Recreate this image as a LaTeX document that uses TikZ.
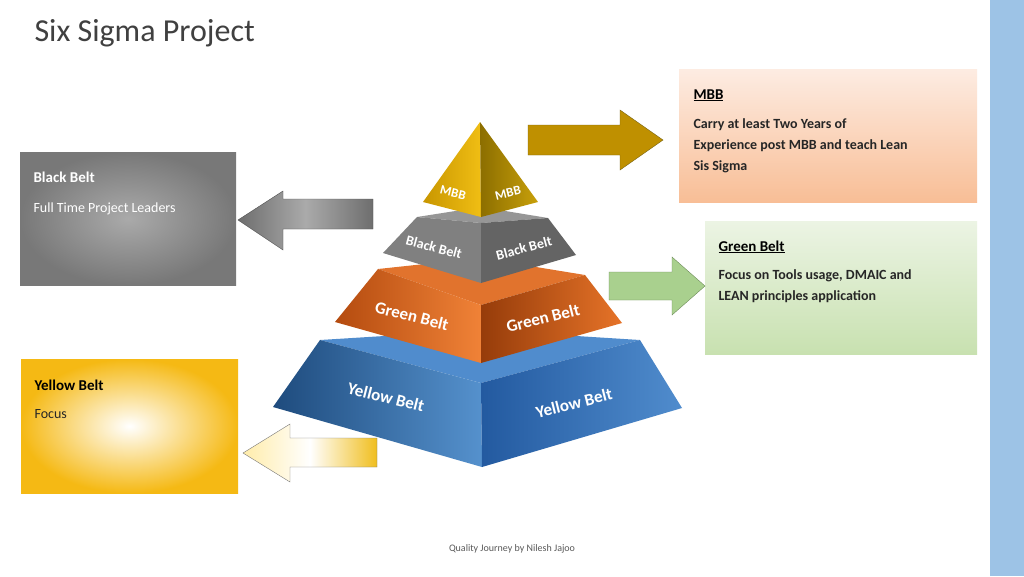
\documentclass[tikz,border=0pt]{standalone}
\usepackage{fontspec}
\setmainfont{Carlito}
\definecolor{strip}{RGB}{157,195,230}
\definecolor{dk}{RGB}{64,64,64}
\definecolor{body}{RGB}{38,38,38}
\definecolor{ytop}{RGB}{80,140,205}
\definecolor{gtop}{RGB}{225,115,45}
\definecolor{btop}{RGB}{150,150,150}
\definecolor{bleft}{RGB}{128,128,128}
\definecolor{bright}{RGB}{100,100,100}
\begin{document}
\begin{tikzpicture}[x=1pt,y=-1pt,
  lbl/.style={text=white,font=\bfseries},
  boxt/.style={anchor=north west,align=left,font=\bfseries\fontsize{15}{18}\selectfont},
  boxb/.style={anchor=north west,align=left,font=\bfseries\fontsize{14}{21}\selectfont}]
\useasboundingbox (0,0) rectangle (1024,576);
\fill[white] (0,0) rectangle (1024,576);
\fill[strip] (990,0) rectangle (1024,576);
\node[anchor=west,font=\fontsize{32}{36}\selectfont,text=dk] (title) at (31,33) {Six Sigma Project};
\node[font=\fontsize{10}{12}\selectfont,text={rgb,255:red,89;green,89;blue,89}] (foot) at (512,549) {Quality Journey by Nilesh Jajoo};
% boxes
\shade[top color={rgb,255:red,253;green,236;blue,226},bottom color={rgb,255:red,248;green,190;blue,150}] (679,69) rectangle (977,202);
\node[boxt,text=black] (mbbt) at (690,86) {\underline{MBB}};
\node[boxb,text=body] (mbbb) at (690,115) {Carry at least Two Years of\\Experience post MBB and teach Lean\\Sis Sigma};
\shade[top color={rgb,255:red,236;green,244;blue,228},bottom color={rgb,255:red,200;green,225;blue,176}] (705,221) rectangle (977,354);
\node[boxt,text=black] (gbt) at (715,237) {\underline{Green Belt}};
\node[boxb,text=body] (gbb) at (715,266) {Focus on Tools usage, DMAIC and\\LEAN principles application};
\shade[inner color={rgb,255:red,170;green,170;blue,170},outer color={rgb,255:red,120;green,120;blue,120}] (20,152) rectangle (236,285);
\node[boxt,text=white] (bbt) at (30,168) {Black Belt};
\node[anchor=north west,font=\fontsize{14}{17}\selectfont,text=white] (bbb) at (30,199) {Full Time Project Leaders};
\shade[inner color=white,outer color={rgb,255:red,245;green,185;blue,20}] (21,359) rectangle (238,493);
\node[boxt,text=black] (ybt) at (31,376) {Yellow Belt};
\node[anchor=north west,font=\fontsize{14}{17}\selectfont,text=body] (ybb) at (31,406) {Focus};
% arrows
\draw[draw={rgb,255:red,120;green,100;blue,20},fill={rgb,255:red,191;green,144;blue,0}] (528,125) -- (620,125) -- (620,110) -- (663,140) -- (620,170) -- (620,155) -- (528,155) -- cycle;
\shade[left color={rgb,255:red,110;green,110;blue,110},right color={rgb,255:red,110;green,110;blue,110},middle color={rgb,255:red,170;green,170;blue,170},draw={rgb,255:red,80;green,80;blue,80}] (373,199) -- (283,199) -- (283,191) -- (238,220) -- (283,250) -- (283,229) -- (373,229) -- cycle;
\draw[draw={rgb,255:red,110;green,140;blue,90},fill={rgb,255:red,169;green,208;blue,142}] (609,272) -- (672,272) -- (672,257) -- (705,286) -- (672,315) -- (672,300) -- (609,300) -- cycle;
\shade[left color={rgb,255:red,255;green,236;blue,170},right color={rgb,255:red,240;green,190;blue,30},middle color=white,draw={rgb,255:red,120;green,120;blue,120}] (377,438) -- (290,438) -- (290,424) -- (243,453) -- (290,482) -- (290,467) -- (377,467) -- cycle;
% yellow band
\fill[ytop] (320,340) -- (481,330) -- (640,340) -- (481,383) -- cycle;
\shade[left color={rgb,255:red,30;green,75;blue,125},right color={rgb,255:red,85;green,145;blue,205}] (320,340) -- (481,383) -- (482,467) -- (273,407) -- cycle;
\shade[left color={rgb,255:red,35;green,90;blue,160},right color={rgb,255:red,80;green,140;blue,205}] (481,383) -- (640,340) -- (682,408) -- (482,467) -- cycle;
% green band
\fill[gtop] (378,269) -- (481,258) -- (585,275) -- (481,305) -- cycle;
\shade[left color={rgb,255:red,180;green,75;blue,15},right color={rgb,255:red,240;green,130;blue,55}] (378,269) -- (481,305) -- (481,363) -- (335,322) -- cycle;
\shade[left color={rgb,255:red,150;green,60;blue,10},right color={rgb,255:red,230;green,115;blue,40}] (481,305) -- (585,275) -- (622,323) -- (481,363) -- cycle;
% black band
\fill[btop] (417,217) -- (481,207) -- (548,218) -- (481,223) -- cycle;
\fill[bleft] (417,217) -- (481,223) -- (481,283) -- (383,253) -- cycle;
\fill[bright] (481,223) -- (548,218) -- (576,255) -- (481,283) -- cycle;
% top
\shade[left color={rgb,255:red,200;green,150;blue,0},right color={rgb,255:red,240;green,190;blue,20}] (480,122) -- (481,217) -- (423,202) -- cycle;
\shade[left color={rgb,255:red,140;green,110;blue,0},right color={rgb,255:red,200;green,160;blue,10}] (480,122) -- (538,202) -- (481,217) -- cycle;
% labels
\node[lbl,font=\bfseries\fontsize{13}{15}\selectfont,rotate=-14] (m1) at (453,193) {MBB};
\node[lbl,font=\bfseries\fontsize{13}{15}\selectfont,rotate=14] (m2) at (508,193) {MBB};
\node[lbl,font=\bfseries\fontsize{14}{16}\selectfont,rotate=-15] (b1) at (434,247) {Black Belt};
\node[lbl,font=\bfseries\fontsize{14}{16}\selectfont,rotate=15] (b2) at (524,248) {Black Belt};
\node[lbl,font=\bfseries\fontsize{17}{20}\selectfont,rotate=-14] (g1) at (412,316) {Green Belt};
\node[lbl,font=\bfseries\fontsize{17}{20}\selectfont,rotate=14] (g2) at (543,318) {Green Belt};
\node[lbl,font=\bfseries\fontsize{17}{20}\selectfont,rotate=-14] (y1) at (386,397) {Yellow Belt};
\node[lbl,font=\bfseries\fontsize{17}{20}\selectfont,rotate=14] (y2) at (574,403) {Yellow Belt};
\end{tikzpicture}
\end{document}
